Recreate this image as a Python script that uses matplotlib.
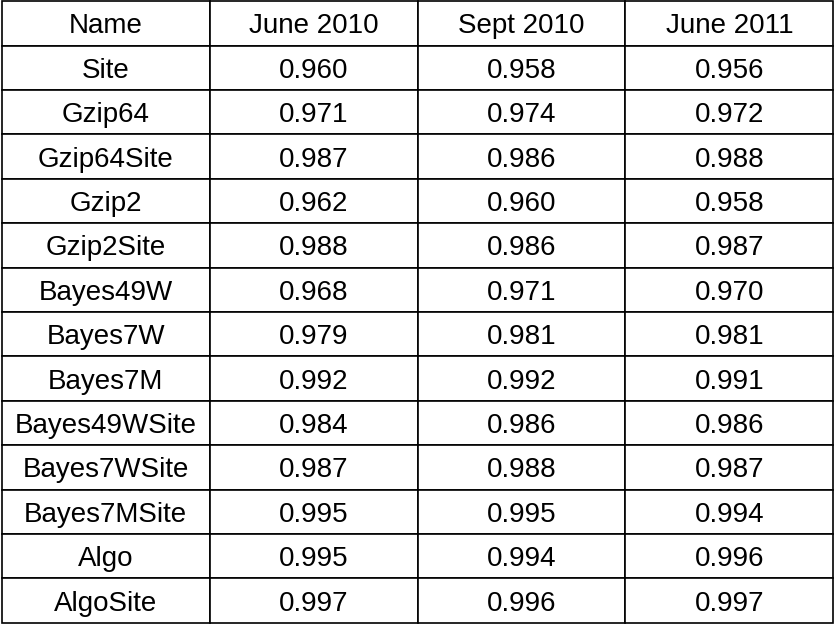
import matplotlib.pyplot as plt

plt.rcParams['font.family'] = ['Liberation Sans', 'DejaVu Sans']

header = ["Name", "June 2010", "Sept 2010", "June 2011"]
names = ["Site", "Gzip64", "Gzip64Site", "Gzip2", "Gzip2Site", "Bayes49W",
         "Bayes7W", "Bayes7M", "Bayes49WSite", "Bayes7WSite", "Bayes7MSite",
         "Algo", "AlgoSite"]
june_2010 = ["0.960", "0.971", "0.987", "0.962", "0.988", "0.968", "0.979",
             "0.992", "0.984", "0.987", "0.995", "0.995", "0.997"]
sept_2010 = ["0.958", "0.974", "0.986", "0.960", "0.986", "0.971", "0.981",
             "0.992", "0.986", "0.988", "0.995", "0.994", "0.996"]
june_2011 = ["0.956", "0.972", "0.988", "0.958", "0.987", "0.970", "0.981",
             "0.991", "0.986", "0.987", "0.994", "0.996", "0.997"]

cells = [header] + [list(r) for r in zip(names, june_2010, sept_2010, june_2011)]

fig = plt.figure(figsize=(8.35, 6.24), dpi=100)
ax = fig.add_axes([0.002, 0.002, 0.996, 0.996])
ax.axis('off')

tbl = ax.table(cellText=cells, cellLoc='center', bbox=[0, 0, 1, 1])
tbl.auto_set_font_size(False)
for (r, c), cell in tbl.get_celld().items():
    cell.set_linewidth(1.2)
    cell.set_edgecolor('black')
    txt = cell.get_text()
    txt.set_fontsize(20)
    txt.set_va('center_baseline')
    cell.set_width(0.25)

fig.savefig("out.png", dpi=100, facecolor='white')
